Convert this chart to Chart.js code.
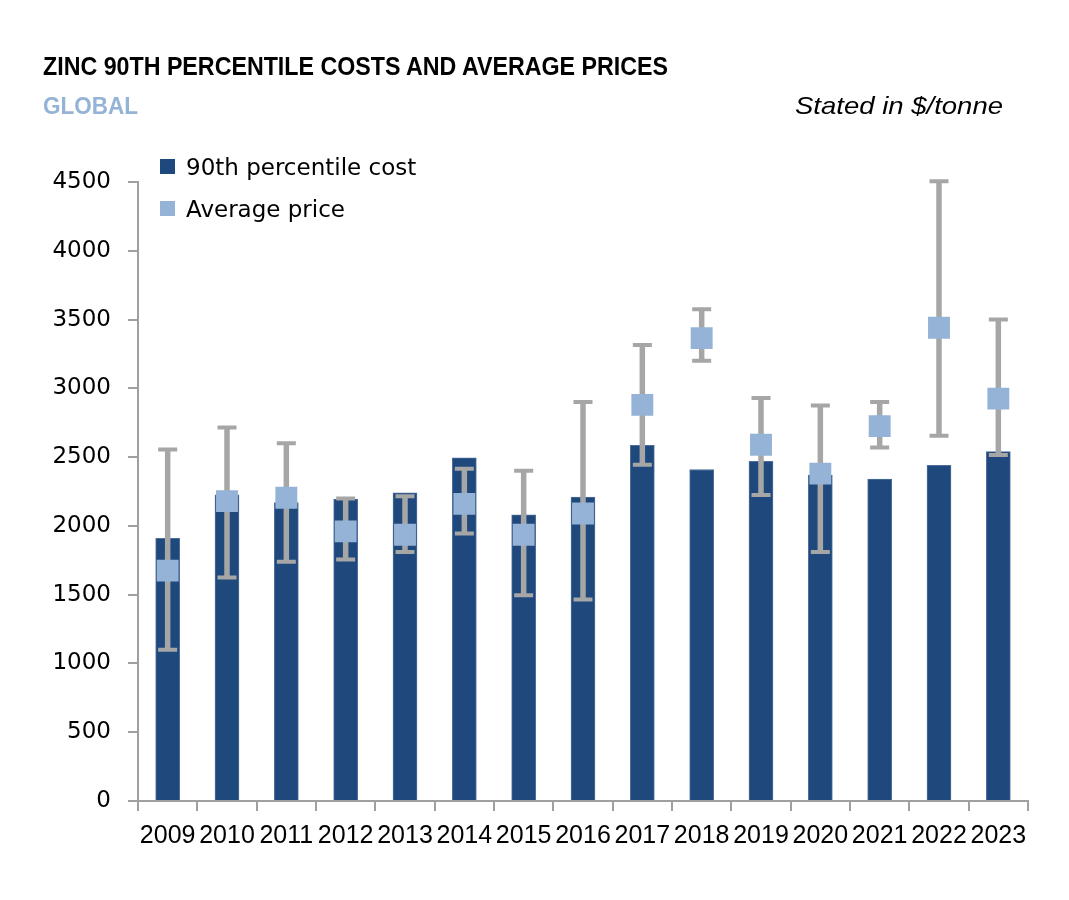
<!DOCTYPE html>
<html>
<head>
<meta charset="utf-8">
<script src="https://cdn.jsdelivr.net/npm/chart.js@4"></script>
<style>
  html, body { margin: 0; padding: 0; background: #ffffff; }
  #wrap { position: relative; width: 1069px; height: 900px; overflow: hidden; }
  canvas { position: absolute; left: 0; top: 0; }
  .t { position: absolute; white-space: nowrap; transform-origin: 0 0; }
  #title { left: 43px; top: 51px; font: bold 26px "Liberation Sans", Arial, sans-serif; color: #000; }
  #sub { left: 43px; top: 92px; font: bold 24px "Liberation Sans", Arial, sans-serif; color: #95B3D7; }
  #unit { left: 795px; top: 92px; font: italic 24px "Liberation Sans", Arial, sans-serif; color: #000; }
  .lg { position: absolute; left: 160px; font: 23px "DejaVu Sans", sans-serif; color: #000; white-space: nowrap; }
  .lg span.box { display: inline-block; width: 15px; height: 15px; margin-right: 11px; vertical-align: middle; position: relative; top: -2px; }
</style>
</head>
<body>
<div id="wrap">
  <canvas id="c" width="1069" height="900"></canvas>
  <div class="t" id="title" data-w="625">ZINC 90TH PERCENTILE COSTS AND AVERAGE PRICES</div>
  <div class="t" id="sub" data-w="95">GLOBAL</div>
  <div class="t" id="unit" data-w="208">Stated in $/tonne</div>
  <div class="lg" style="top:154px"><span class="box" style="background:#1F497D"></span>90th percentile cost</div>
  <div class="lg" style="top:196px"><span class="box" style="background:#95B3D7"></span>Average price</div>
</div>
<script>
// ---- data ----
const years = ['2009','2010','2011','2012','2013','2014','2015','2016','2017','2018','2019','2020','2021','2022','2023'];
const cost90 = [1910, 2225, 2170, 2195, 2240, 2495, 2080, 2210, 2585, 2410, 2470, 2370, 2340, 2440, 2540];
const avgPrice = [1675, 2180, 2205, 1960, 1935, 2160, 1935, 2090, 2880, 3365, 2590, 2380, 2725, 3440, 2925];
const priceHigh = [2555, 2715, 2600, 2200, 2215, 2415, 2400, 2900, 3315, 3575, 2930, 2875, 2900, 4505, 3500];
const priceLow = [1100, 1625, 1740, 1755, 1810, 1945, 1495, 1465, 2445, 3200, 2225, 1810, 2570, 2655, 2515];
const yTicks = [0, 500, 1000, 1500, 2000, 2500, 3000, 3500, 4000, 4500];

// fit header texts horizontally
document.querySelectorAll('.t').forEach(el => {
  const w = el.getBoundingClientRect().width;
  const target = +el.dataset.w;
  el.style.transform = 'scaleX(' + (target / w) + ')';
});

const AXIS = '#A0A0A0';

const errorBars = {
  id: 'errorBars',
  afterDatasetDraw(chart, args) {
    if (args.index !== 0) return;
    const ctx = chart.ctx;
    const xs = chart.scales.x, ys = chart.scales.y;
    ctx.save();
    ctx.strokeStyle = '#A6A6A6';
    years.forEach((yr, i) => {
      const x = xs.getPixelForValue(i);
      const yh = ys.getPixelForValue(priceHigh[i]);
      const yl = ys.getPixelForValue(priceLow[i]);
      ctx.lineWidth = 5.5;
      ctx.beginPath();
      ctx.moveTo(x, yh); ctx.lineTo(x, yl); ctx.stroke();
      ctx.lineWidth = 4;
      ctx.beginPath();
      ctx.moveTo(x - 9.5, yh); ctx.lineTo(x + 9.5, yh);
      ctx.moveTo(x - 9.5, yl); ctx.lineTo(x + 9.5, yl);
      ctx.stroke();
    });
    ctx.restore();
  }
};

new Chart(document.getElementById('c'), {
  data: {
    labels: years,
    datasets: [
      {
        type: 'bar',
        label: '90th percentile cost',
        data: cost90,
        backgroundColor: '#1F497D',
        borderColor: '#4F6F9A',
        borderWidth: 1,
        barThickness: 24,
        order: 2
      },
      {
        type: 'line',
        label: 'Average price',
        data: avgPrice,
        showLine: false,
        pointStyle: 'rect',
        pointRadius: 15.5,
        pointHoverRadius: 15.5,
        pointBackgroundColor: '#95B3D7',
        pointBorderColor: '#95B3D7',
        pointBorderWidth: 0,
        order: 1
      }
    ]
  },
  options: {
    responsive: false,
    animation: false,
    events: [],
    layout: { padding: { left: 0, right: 41, top: 182, bottom: 40 } },
    plugins: {
      legend: { display: false },
      tooltip: { enabled: false },
      title: { display: false }
    },
    scales: {
      x: {
        offset: true,
        border: { display: true, color: AXIS, width: 2 },
        grid: { display: true, offset: true, drawOnChartArea: false, drawTicks: true, tickLength: 10, color: AXIS, lineWidth: 2 },
        ticks: { color: '#000', font: { family: '"Liberation Sans", Arial, sans-serif', size: 25 }, padding: 10, maxRotation: 0, autoSkip: false },
        afterFit(scale) { scale.height = 59; }
      },
      y: {
        min: 0, max: 4500,
        afterBuildTicks(scale) { scale.ticks = yTicks.map(v => ({ value: v })); },
        border: { display: true, color: AXIS, width: 2 },
        grid: { display: true, drawOnChartArea: false, drawTicks: true, tickLength: 10, color: AXIS, lineWidth: 2 },
        ticks: {
          color: '#000',
          font: { family: '"DejaVu Sans", sans-serif', size: 23 },
          padding: 17,
          callback: (v) => String(v)
        },
        afterFit(scale) { scale.width = 138; }
      }
    }
  },
  plugins: [errorBars]
});
</script>
</body>
</html>
